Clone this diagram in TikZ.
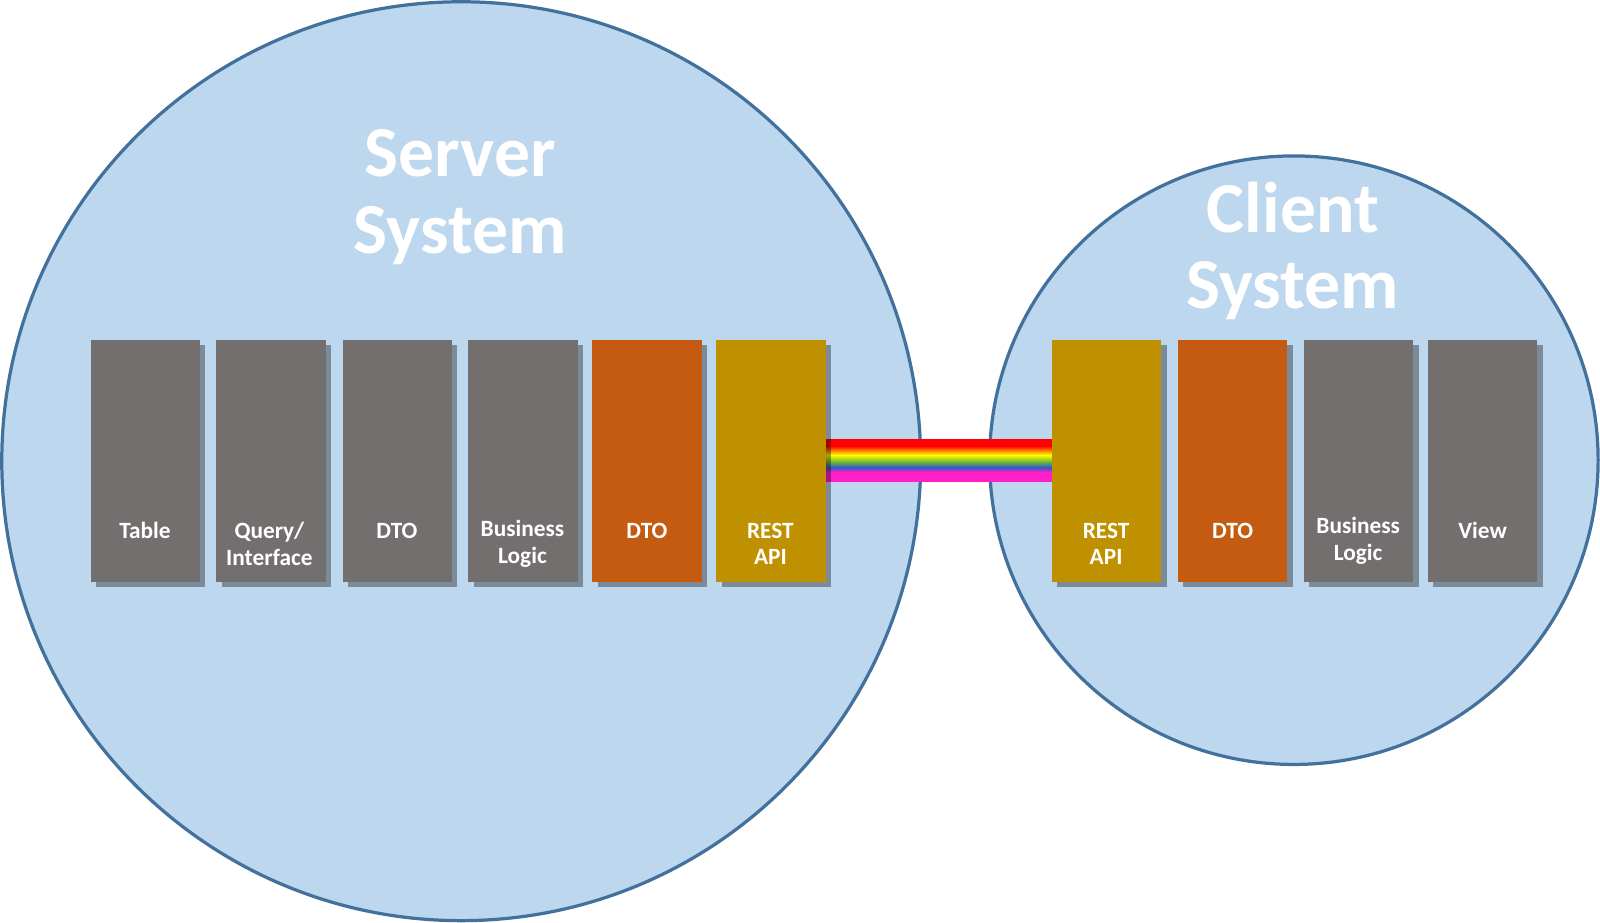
\documentclass[tikz,border=0pt]{standalone}
\usepackage{fontspec}
\setmainfont{Carlito}
\usetikzlibrary{shadows}
\definecolor{circfill}{HTML}{BDD7EE}
\definecolor{circline}{HTML}{41719C}
\definecolor{gbox}{HTML}{736F6E}
\definecolor{obox}{HTML}{C55A11}
\definecolor{ybox}{HTML}{BF9000}
\definecolor{rmag}{RGB}{255,30,200}
\definecolor{rgreen}{RGB}{120,190,40}
\definecolor{rblue}{RGB}{50,90,200}
\begin{document}
\begin{tikzpicture}[x=0.01cm,y=-0.01cm,
  circ/.style={fill=circfill,draw=circline,line width=0.9pt},
  box/.style={draw=none,minimum width=1.07cm,minimum height=2.37cm,inner sep=0pt,
    drop shadow={shadow xshift=1.5pt,shadow yshift=-1.5pt,opacity=0.35,fill=black}},
  lbl/.style={text=white,font=\bfseries\fontsize{6.5}{7.4}\selectfont,align=center},
  title/.style={text=white,font=\bfseries\fontsize{20}{21.3}\selectfont,align=center}]
\useasboundingbox (0,0) rectangle (1568,904);
\node[circ,circle,minimum size=9.0cm,inner sep=0pt] (server) at (452,452) {};
\node[circ,circle,minimum size=5.96cm,inner sep=0pt] (client) at (1268,451) {};
% rainbow band
\fill[red] (809,430) rectangle (1031,437);
\shade[top color=red,bottom color=yellow] (809,437) rectangle (1031,446);
\shade[top color=yellow,bottom color=rgreen] (809,446) rectangle (1031,452);
\shade[top color=rgreen,bottom color=rblue] (809,452) rectangle (1031,458);
\shade[top color=rblue,bottom color=rmag] (809,458) rectangle (1031,463);
\fill[rmag] (809,463) rectangle (1031,472);
% server boxes
\node[box,fill=gbox] (s1) at (142.5,451.5) {};
\node[box,fill=gbox] (s2) at (265.5,451.5) {};
\node[box,fill=gbox] (s3) at (389.5,451.5) {};
\node[box,fill=gbox] (s4) at (512.5,451.5) {};
\node[box,fill=obox] (s5) at (634,451.5) {};
\node[box,fill=ybox] (s6) at (755.5,451.5) {};
% client boxes
\node[box,fill=ybox] (c1) at (1084.5,451.5) {};
\node[box,fill=obox] (c2) at (1208,451.5) {};
\node[box,fill=gbox] (c3) at (1331.5,451.5) {};
\node[box,fill=gbox] (c4) at (1453,451.5) {};
% labels
\node[lbl] (t1) at (142,520) {Table};
\node[lbl] (t2) at (264,533) {Query/\\Interface};
\node[lbl] (t3) at (389,520) {DTO};
\node[lbl] (t4) at (512,533) {Business\\Logic};
\node[lbl] (t5) at (634,520) {DTO};
\node[lbl] (t6) at (755,533) {REST\\API};
\node[lbl] (u1) at (1084,533) {REST\\API};
\node[lbl] (u2) at (1208,520) {DTO};
\node[lbl] (u3) at (1331,530) {Business\\Logic};
\node[lbl] (u4) at (1453,520) {View};
\node[title] (st) at (451,193) {Server\\System};
\node[title] (ct) at (1267,246) {Client\\System};
\end{tikzpicture}
\end{document}
